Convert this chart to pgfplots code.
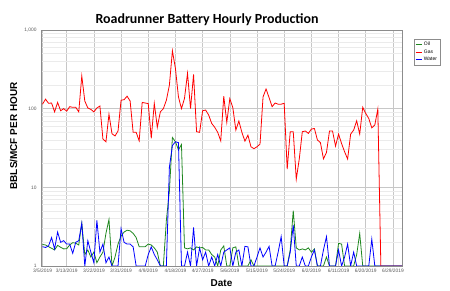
\documentclass[border=0pt]{standalone}
\usepackage{pgfplots}
\pgfplotsset{compat=1.18}
\usepackage{pgfplotstable}
\usepackage{fontspec}
\setmainfont{Liberation Sans}
\newfontfamily\titlefont{Carlito}
\definecolor{oilgreen}{RGB}{30,135,30}
\definecolor{gasred}{RGB}{255,0,0}
\definecolor{waterblue}{RGB}{0,0,255}
\pgfplotstableread{
d oil gas water
0 1.88 114 1.76
1 1.85 132 1.72
2 1.76 117 1.8
3 1.68 118 2.3
4 1.6 91 1.65
5 1.83 120 2.7
6 1.73 94 2.0
7 1.65 100 2.1
8 1.66 93 1.9
9 1.85 106 1.9
10 1.98 104 1.45
11 1.95 104 2.0
12 1.85 91 2.1
13 3.5 260 3.5
14 1.4 125 1.0
15 1.6 102 2.1
16 1.3 98 1.5
17 1.5 91 1.1
18 1.1 102 3.8
19 1.3 108 1.5
20 1.5 41 1.9
21 2.6 38 1.1
22 3.9 85 1.3
23 1.0 48 1.0
24 1.3 45 1.0
25 1.9 52 1.0
26 2.4 128 3.0
27 2.7 130 2.0
28 2.85 144 1.9
29 2.8 125 1.9
30 2.6 50 1.75
31 2.3 50 1.0
32 1.76 39 1.0
33 1.76 120 1.0
34 1.76 118 1.0
35 1.9 116 1.4
36 1.85 42 1.75
37 1.7 117 1.4
38 1.5 58 1.2
39 1.0 91 1.0
40 1.0 100 1.0
41 3.8 128 1.0
42 9 199 18
43 43 544 34
44 38 324 38
45 30 141 37
46 35 100 1.0
47 1.7 135 1.0
48 1.65 281 1.5
49 1.7 100 1.0
50 1.6 273 3.1
51 1.75 51 1.0
52 1.7 50 1.7
53 1.72 94 1.2
54 1.6 96 1.5
55 1.6 83 1.0
56 1.4 65 1.3
57 1.3 58 1.0
58 1.0 50 1.4
59 1.6 39 1.0
60 1.8 144 1.5
61 1.0 67 1.6
62 1.0 134 1.7
63 1.7 103 1.0
64 1.75 53.5 1.5
65 1.0 69.5 1.6
66 1.0 50 1.0
67 1.0 38.7 1.78
68 1.0 46 1.75
69 1.2 32.8 1.0
70 1.0 31 1.0
71 1.0 32.8 1.3
72 1.0 35.4 1.7
73 1.0 141 1.3
74 1.0 178 1.5
75 1.0 138 1.78
76 1.0 106 1.0
77 1.0 118 1.0
78 1.0 114 1.5
79 1.0 114 2.36
80 1.0 117 1.0
81 1.0 17 1.0
82 1.6 51 1.5
83 5.05 51 3.3
84 1.7 12.7 1.0
85 1.6 23 1.0
86 1.65 51 1.3
87 1.6 52 1.0
88 1.7 48.5 1.0
89 1.5 55 1.3
90 1.65 56 1.6
91 1.0 40 1.0
92 1.0 37 1.0
93 1.0 23 1.6
94 1.3 27.8 2.36
95 1.0 52 1.0
96 1.0 52 1.0
97 1.0 33.5 1.0
98 1.94 47.5 1.6
99 1.9 36 1.0
100 1.0 28.3 1.3
101 1.0 22.9 1.9
102 1.0 47.5 1.0
103 1.0 53.5 1.5
104 1.4 70 1.0
105 2.6 47.5 1.0
106 1.0 104 1.0
107 1.0 87 1.0
108 1.0 75 1.0
109 1.0 57 2.2
110 1.0 62 1.0
111 1.0 99 1.0
112 1.0 1.0 1.0
113 1.0 1.0 1.0
114 1.0 1.0 1.0
115 1.0 1.0 1.0
116 1.0 1.0 1.0
117 1.0 1.0 1.0
118 1.0 1.0 1.0
119 1.0 1.0 1.0
}\prod
\begin{document}
\begin{tikzpicture}
\path[use as bounding box] (-41bp,-25bp) rectangle (409bp,266bp);
\begin{axis}[
  scale only axis, width=361bp, height=236bp,
  ymode=log, ymin=1, ymax=1000,
  xmin=-0.5, xmax=119,
  xtick={0,8,17,26,35,44,53,62,71,80,89,98,107,116},
  xticklabels={3/5/2019,3/13/2019,3/22/2019,3/31/2019,4/9/2019,4/18/2019,4/27/2019,5/6/2019,5/15/2019,5/24/2019,6/2/2019,6/11/2019,6/20/2019,6/29/2019},
  ytick={1,10,100,1000}, yticklabels={1,10,100,{1,000}},
  minor ytick={2,3,4,5,6,7,8,9,20,30,40,50,60,70,80,90,200,300,400,500,600,700,800,900},
  xmajorgrids, ymajorgrids, yminorgrids,
  major grid style={draw=black!22, line width=0.6pt},
  minor grid style={draw=black!8, line width=0.6pt},
  major tick length=0pt, minor tick length=0pt,
  axis line style={draw=black!45, line width=0.8pt},
  /pgf/number format/assume math mode=true,
  tick label style={font=\fontsize{4.9}{5}\selectfont, text=black!65},
  xticklabel style={yshift=1pt},
  yticklabel style={xshift=-1pt},
  legend style={at={(1.033,0.962)}, anchor=north west, draw=black!45,
    font=\fontsize{5}{5.5}\selectfont, inner sep=1pt, row sep=-1.5pt,
    legend cell align=left},
  legend image code/.code={\draw[#1] (0bp,0bp) -- (6bp,0bp);},
]
\addplot[oilgreen, line width=0.8pt] table[x=d, y=oil] {\prod};
\addlegendentry{Oil}
\addplot[gasred, line width=0.8pt] table[x=d, y=gas] {\prod};
\addlegendentry{Gas}
\addplot[waterblue, line width=0.8pt] table[x=d, y=water] {\prod};
\addlegendentry{Water}
\end{axis}
\node[font=\titlefont\bfseries\fontsize{14}{16}\selectfont] at (166bp,246bp) {Roadrunner Battery Hourly Production};
\node[font=\bfseries\fontsize{10}{12}\selectfont] at (180.5bp,-17bp) {Date};
\node[font=\bfseries\fontsize{10}{12}\selectfont, rotate=90] at (-27.3bp,130bp) {BBLS/MCF PER HOUR};
\end{tikzpicture}
\end{document}
